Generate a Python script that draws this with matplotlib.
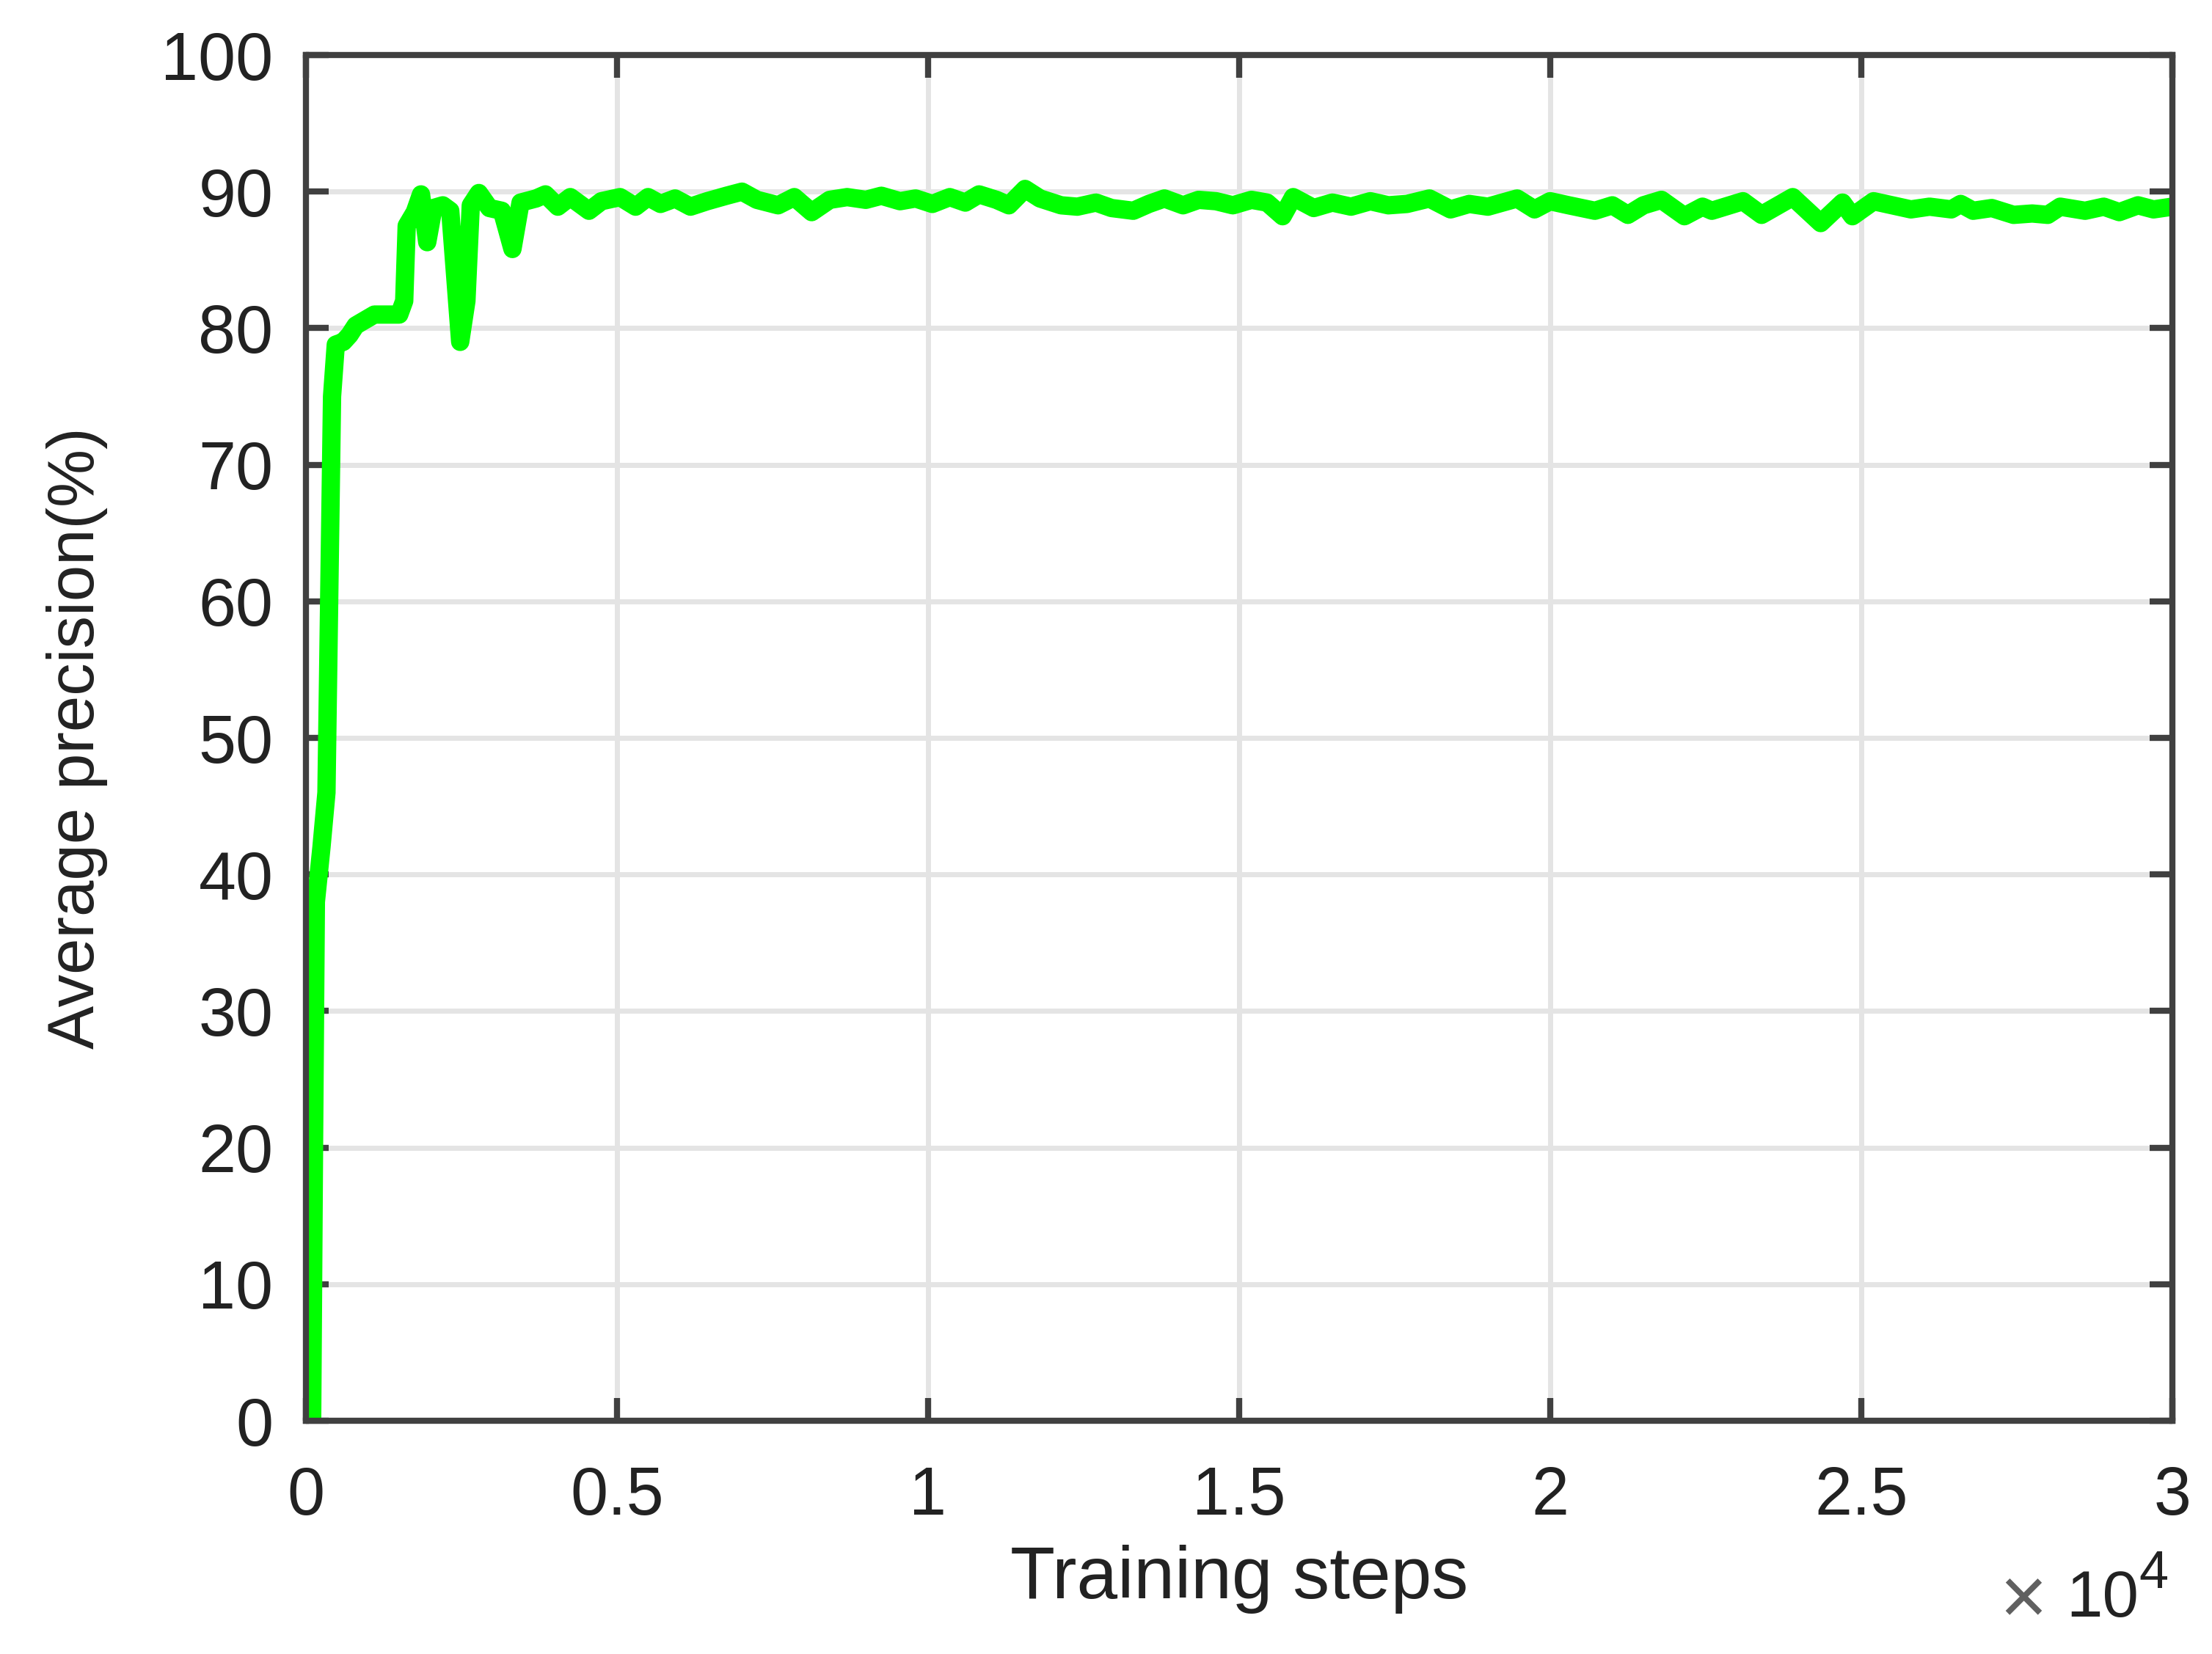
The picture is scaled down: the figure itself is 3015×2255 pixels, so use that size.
import matplotlib
matplotlib.use("Agg")
import matplotlib.pyplot as plt

plt.rcParams["font.family"] = ["Liberation Sans", "DejaVu Sans"]

# training step -> average precision (%)
steps = [0, 100, 130, 160, 250, 330, 420, 480, 600, 700, 800, 950, 1100, 1500,
         1580, 1620, 1750, 1850, 1950, 2050, 2200, 2320, 2480, 2580, 2650, 2780,
         2950, 3150, 3320, 3450, 3700, 3850, 4050, 4250, 4550, 4750, 5050, 5300,
         5500, 5700, 5934, 6182, 6450, 6761, 7010, 7250, 7590, 7850, 8130, 8420,
         8700, 9000, 9250, 9550, 9800, 10070, 10350, 10600, 10820, 11100, 11300,
         11560, 11800, 12140, 12400, 12700, 12950, 13300, 13550, 13800, 14100,
         14350, 14630, 14900, 15200, 15450, 15700, 15870, 16200, 16500, 16800,
         17110, 17400, 17700, 18060, 18400, 18700, 19000, 19470, 19750, 20000,
         20300, 20720, 21000, 21250, 21500, 21790, 22160, 22450, 22600, 23100,
         23400, 23900, 24350, 24700, 24860, 25200, 25500, 25800, 26100, 26450,
         26600, 26800, 27100, 27450, 27750, 28000, 28200, 28600, 28900, 29150,
         29450, 29700, 30000]
precision = [0, 0, 20, 38, 42, 46, 75, 78.8, 79, 79.5, 80.2, 80.6, 81.0, 81.0,
             82, 87.5, 88.5, 89.8, 86.3, 88.8, 89.0, 88.6, 79.0, 82, 89.0, 89.9,
             88.8, 88.6, 85.8, 89.2, 89.5, 89.8, 88.9, 89.6, 88.6, 89.3, 89.6, 88.9,
             89.6, 89.1, 89.5, 88.9, 89.3, 89.7, 90.0, 89.4, 89.0, 89.6, 88.5, 89.4,
             89.6, 89.4, 89.7, 89.3, 89.5, 89.1, 89.6, 89.2, 89.8, 89.4, 89.0,
             90.2, 89.5, 89.0, 88.9, 89.2, 88.8, 88.6, 89.1, 89.5, 89.0,
             89.4, 89.3, 89.0, 89.4, 89.2, 88.2, 89.6, 88.8, 89.2, 88.9,
             89.3, 89.0, 89.1, 89.5, 88.7, 89.1, 88.9, 89.5, 88.7, 89.3,
             89.0, 88.6, 89.0, 88.3, 89.0, 89.4, 88.2, 88.9, 88.6, 89.3,
             88.3, 89.6, 87.7, 89.2, 88.2, 89.3, 89.0, 88.7, 88.9, 88.7,
             89.1, 88.6, 88.8, 88.3, 88.4, 88.3, 88.9, 88.6, 88.9, 88.5,
             89.0, 88.7, 88.9]

xticks = [0, 5000, 10000, 15000, 20000, 25000, 30000]
xtick_labels = ["0", "0.5", "1", "1.5", "2", "2.5", "3"]
yticks = list(range(0, 101, 10))

fig = plt.figure(figsize=(15.075, 11.275), dpi=200)
ax = fig.add_axes([0.1383, 0.141, 0.8437, 0.8257])

ax.plot(steps, precision, color="#00ff00", lw=9, solid_joinstyle="round")

ax.set_xlim(0, 30000)
ax.set_ylim(0, 100)
ax.set_xticks(xticks)
ax.set_xticklabels(xtick_labels)
ax.set_yticks(yticks)

ax.grid(True, color="#e4e4e4", lw=2.5)
ax.set_axisbelow(True)
for s in ax.spines.values():
    s.set_color("#404040")
    s.set_linewidth(3)
ax.tick_params(direction="in", length=11, width=3, color="#404040",
               top=True, right=True, labelsize=33, labelcolor="#222222")
ax.tick_params(axis="x", pad=22)
ax.tick_params(axis="y", pad=16)

ax.set_xlabel("Training steps", fontsize=36, color="#222222", labelpad=8)
ax.set_ylabel("Average precision(%)", fontsize=32, color="#222222", labelpad=26)

# MATLAB-style exponent below the x axis
ax.text(0.933, -0.133, "×", transform=ax.transAxes, ha="right", va="center",
        fontsize=40, color="#606060")
ax.text(0.982, -0.1435, "10", transform=ax.transAxes, ha="right",
        va="baseline", fontsize=32, color="#222222")
ax.text(0.982, -0.1226, "4", transform=ax.transAxes, ha="left",
        va="baseline", fontsize=26, color="#222222")

fig.savefig("out.png", dpi=200)
